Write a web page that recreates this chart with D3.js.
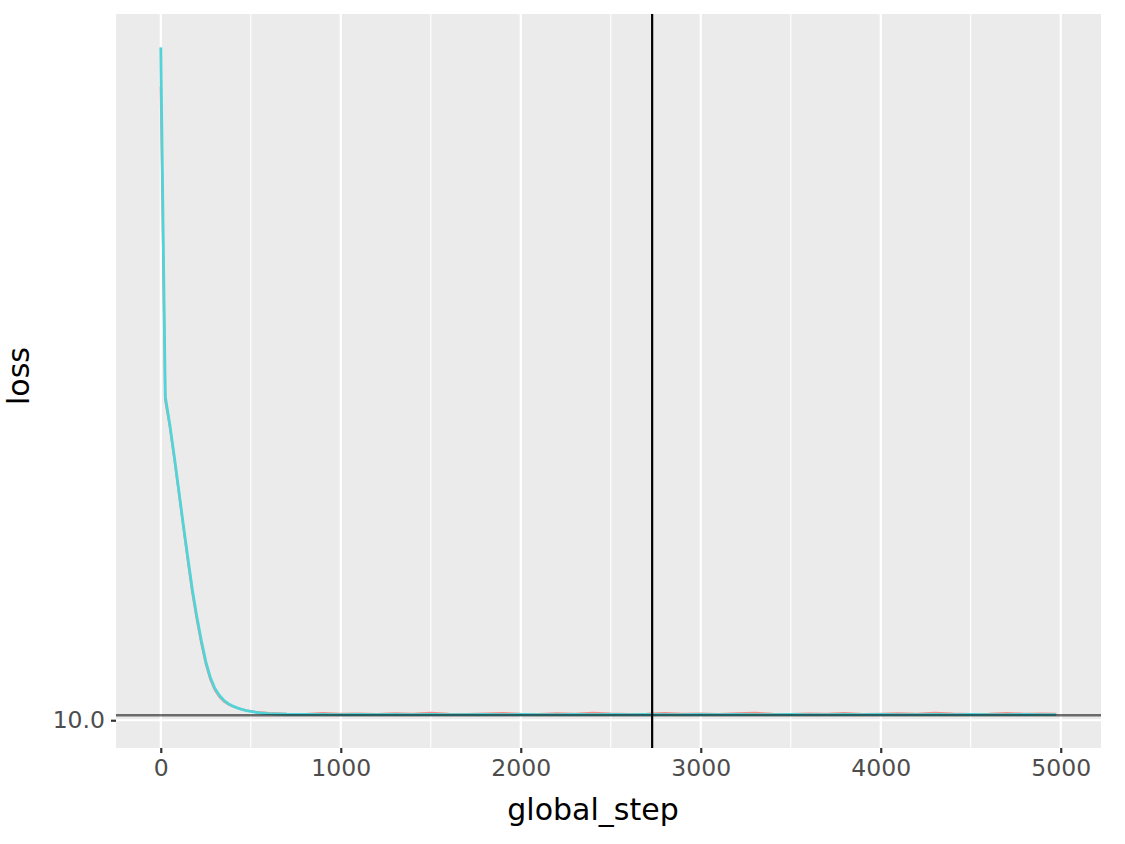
<!DOCTYPE html>
<html>
<head>
<meta charset="utf-8">
<script src="https://cdn.jsdelivr.net/npm/d3@7"></script>
<style>
	body { margin: 0; background: #ffffff; }
	svg { display: block; }
</style>
</head>
<body>
<div id="chart"></div>
<script>
// logged training steps (every 25 during the drop, then every 100)
var steps = [0, 25, 50, 75, 100, 125, 150, 175, 200, 225, 250, 275, 300, 325, 350, 375, 400, 425, 450, 475, 500, 525, 550, 575, 600,
	700, 800, 900, 1000, 1100, 1200, 1300, 1400, 1500, 1600,
	1700, 1800, 1900, 2000, 2100, 2200, 2300, 2400, 2500, 2600,
	2700, 2800, 2900, 3000, 3100, 3200, 3300, 3400, 3500, 3600,
	3700, 3800, 3900, 4000, 4100, 4200, 4300, 4400, 4500, 4600,
	4700, 4800, 4900, 4975];

var lossRed = [13.169, 11.60, 11.47, 11.31, 11.14, 10.97, 10.80, 10.64, 10.505, 10.385, 10.282, 10.205, 10.152, 10.118, 10.095, 10.08, 10.069, 10.061, 10.054, 10.049, 10.045, 10.042, 10.040, 10.038, 10.036,
	10.032, 10.031, 10.036, 10.032, 10.033, 10.031, 10.035, 10.032, 10.037, 10.032,
	10.031, 10.033, 10.036, 10.032, 10.031, 10.034, 10.032, 10.037, 10.033, 10.031,
	10.032, 10.036, 10.032, 10.033, 10.031, 10.035, 10.037, 10.032, 10.031, 10.033,
	10.032, 10.036, 10.031, 10.032, 10.034, 10.032, 10.037, 10.033, 10.031, 10.032,
	10.036, 10.032, 10.033, 10.032];

var lossCyan = [13.366, 11.62, 11.48, 11.32, 11.15, 10.98, 10.815, 10.655, 10.52, 10.40, 10.295, 10.215, 10.16, 10.125, 10.10, 10.083, 10.071, 10.062, 10.054, 10.048, 10.044, 10.04, 10.037, 10.035, 10.033,
	10.030, 10.029, 10.029, 10.028, 10.029, 10.028, 10.029, 10.028, 10.029, 10.028,
	10.028, 10.029, 10.028, 10.029, 10.028, 10.028, 10.029, 10.028, 10.029, 10.028,
	10.029, 10.028, 10.028, 10.029, 10.028, 10.029, 10.028, 10.028, 10.029, 10.028,
	10.028, 10.029, 10.028, 10.029, 10.028, 10.028, 10.029, 10.028, 10.029, 10.028,
	10.028, 10.029, 10.028, 10.028];

var xTicks = [0, 1000, 2000, 3000, 4000, 5000];
var xMinor = [500, 1500, 2500, 3500, 4500];
var yTicks = [10.0];

var hLineValue = 10.025;   // horizontal reference
var vLineStep = 2730;      // vertical reference

var seriesColors = ['#F8766D', '#52D3D8'];

var chartWidth = 1125;
var chartHeight = 844;
var panel = { left: 116, right: 1101, top: 14, bottom: 748 };

var svg = d3.select('#chart').append('svg')
	.attr('width', chartWidth)
	.attr('height', chartHeight)
	.style('font-family', "'DejaVu Sans', sans-serif");

// ggplot style 5% expansion
function expand(ext) {
	var pad = (ext[1] - ext[0]) * 0.05;
	return [ext[0] - pad, ext[1] + pad];
}

var x = d3.scaleLinear()
	.domain(expand(d3.extent(steps)))
	.range([panel.left, panel.right]);

var y = d3.scaleLinear()
	.domain(expand(d3.extent(lossRed.concat(lossCyan))))
	.range([panel.bottom, panel.top]);

// panel background
svg.append('rect')
	.attr('x', panel.left)
	.attr('y', panel.top)
	.attr('width', panel.right - panel.left)
	.attr('height', panel.bottom - panel.top)
	.attr('fill', '#EBEBEB');

// grid lines
svg.append('g').selectAll('line')
	.data(xMinor)
	.enter()
	.append('line')
	.attr('x1', function(d) { return x(d); })
	.attr('x2', function(d) { return x(d); })
	.attr('y1', panel.top)
	.attr('y2', panel.bottom)
	.attr('stroke', '#ffffff')
	.attr('stroke-width', 1.1);

svg.append('g').selectAll('line')
	.data(xTicks)
	.enter()
	.append('line')
	.attr('x1', function(d) { return x(d); })
	.attr('x2', function(d) { return x(d); })
	.attr('y1', panel.top)
	.attr('y2', panel.bottom)
	.attr('stroke', '#ffffff')
	.attr('stroke-width', 2.2);

svg.append('g').selectAll('line')
	.data(yTicks)
	.enter()
	.append('line')
	.attr('x1', panel.left)
	.attr('x2', panel.right)
	.attr('y1', function(d) { return y(d); })
	.attr('y2', function(d) { return y(d); })
	.attr('stroke', '#ffffff')
	.attr('stroke-width', 2.2);

// loss lines
var line = d3.line()
	.x(function(d) { return x(d[0]); })
	.y(function(d) { return y(d[1]); });

[lossRed, lossCyan].forEach(function(series, i) {
	svg.append('path')
		.datum(steps.map(function(s, j) { return [s, series[j]]; }))
		.attr('d', line)
		.attr('fill', 'none')
		.attr('stroke', seriesColors[i])
		.attr('stroke-opacity', i == 1 ? 1 : 0.8)
		.attr('stroke-width', i == 1 ? 2.8 : 2.2)
		.attr('stroke-linejoin', 'round');
});

// reference lines
svg.append('line')
	.attr('x1', panel.left)
	.attr('x2', panel.right)
	.attr('y1', y(hLineValue))
	.attr('y2', y(hLineValue))
	.attr('stroke', '#000000')
	.attr('stroke-opacity', 0.55)
	.attr('stroke-width', 2.4);

svg.append('line')
	.attr('x1', x(vLineStep))
	.attr('x2', x(vLineStep))
	.attr('y1', panel.top)
	.attr('y2', panel.bottom)
	.attr('stroke', '#000000')
	.attr('stroke-width', 2.2);

// axes
var xAxis = svg.append('g')
	.attr('transform', 'translate(0,' + panel.bottom + ')')
	.call(d3.axisBottom(x).tickValues(xTicks).tickSize(5).tickPadding(6).tickFormat(d3.format('d')));

var yAxis = svg.append('g')
	.attr('transform', 'translate(' + panel.left + ',0)')
	.call(d3.axisLeft(y).tickValues(yTicks).tickSize(5).tickPadding(6).tickFormat(d3.format('.1f')));

[xAxis, yAxis].forEach(function(ax) {
	ax.select('.domain').remove();
	ax.selectAll('.tick line')
		.attr('stroke', '#333333')
		.attr('stroke-width', 2.2);
	ax.selectAll('.tick text')
		.attr('fill', '#4D4D4D')
		.style('font-size', '23.5px')
		.style('font-family', "'DejaVu Sans', sans-serif");
});

// axis titles
svg.append('text')
	.attr('x', 593)
	.attr('y', 820)
	.attr('text-anchor', 'middle')
	.attr('fill', '#000000')
	.style('font-size', '30px')
	.text('global_step');

svg.append('text')
	.attr('transform', 'translate(29,376) rotate(-90)')
	.attr('text-anchor', 'middle')
	.attr('fill', '#000000')
	.style('font-size', '30px')
	.text('loss');
</script>
</body>
</html>
